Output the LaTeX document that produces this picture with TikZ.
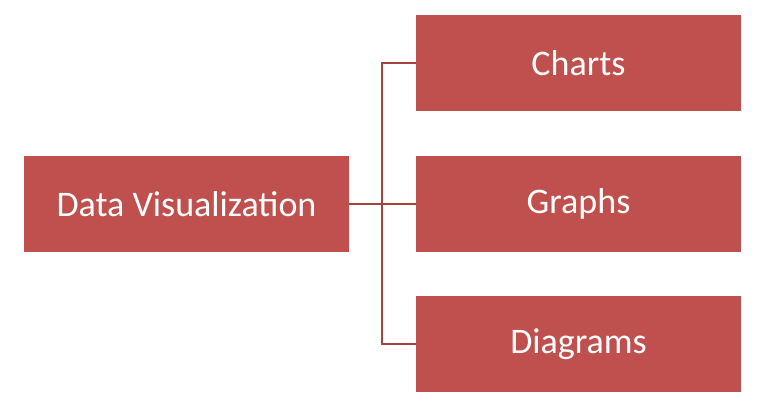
\documentclass[tikz,border=0pt]{standalone}
\usepackage{fontspec}
\setmainfont{Carlito}
\definecolor{boxred}{HTML}{C0504D}
\begin{document}
\begin{tikzpicture}[x=1pt,y=-1pt,
  box/.style={fill=boxred,draw=none,minimum width=325pt,minimum height=96pt,inner sep=0pt,text=white,font=\fontsize{36}{40}\selectfont},
  conn/.style={draw=boxred!85!black,line width=1.5pt}]
\useasboundingbox (0,0) rectangle (768,406);
\node[box] (dv) at (186.5,204) {Data Visualization};
\node[box] (ch) at (578.5,63) {Charts};
\node[box] (gr) at (578.5,204) {Graphs};
\node[box] (di) at (578.5,344) {Diagrams};
\coordinate (j) at (382,204);
\draw[conn] (dv.east) -- (j);
\draw[conn] (j) |- (ch.west);
\draw[conn] (j) -- (gr.west);
\draw[conn] (j) |- (di.west);
\end{tikzpicture}
\end{document}
